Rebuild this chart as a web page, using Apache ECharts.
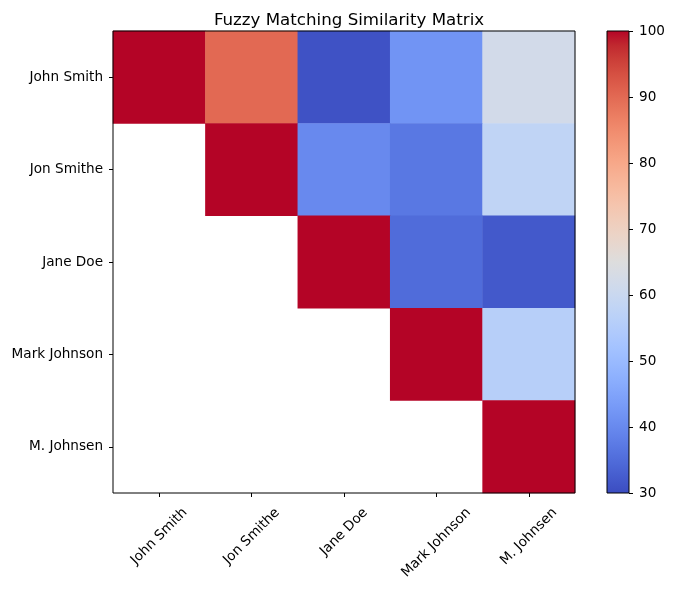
<!DOCTYPE html>
<html>
<head>
<meta charset="utf-8">
<script src="https://cdn.jsdelivr.net/npm/echarts@6/dist/echarts.min.js"></script>
<style>html,body{margin:0;padding:0;background:#fff;}#c{width:675px;height:589px;}</style>
</head>
<body>
<div id="c"></div>
<script>
const names = ['John Smith', 'Jon Smithe', 'Jane Doe', 'Mark Johnson', 'M. Johnsen'];
const rowJohnSmith   = [100, 90, 31, 42, 62];
const rowJonSmithe   = [null, 100, 40, 37, 58];
const rowJaneDoe     = [null, null, 100, 35, 32];
const rowMarkJohnson = [null, null, null, 100, 56];
const rowMJohnsen    = [null, null, null, null, 100];
const colorbarTicks  = [30, 40, 50, 60, 70, 80, 90, 100];

const rows = [rowJohnSmith, rowJonSmithe, rowJaneDoe, rowMarkJohnson, rowMJohnsen];
const data = [];
rows.forEach((r, i) => r.forEach((v, j) => { if (v !== null) data.push([j, i, v]); }));

const coolwarm = ['#3b4cc0','#445acc','#4d68d7','#5775e1','#6282ea','#6c8ef1','#779af7','#82a5fb','#8db0fe','#98b9ff','#a3c2ff','#aec9fd','#b8d0f9','#c2d5f4','#ccd9ee','#d5dbe6','#dddddd','#e5d8d1','#ecd3c5','#f1ccb9','#f5c4ad','#f7bba0','#f7b194','#f7a687','#f49a7b','#f18d6f','#ec7f63','#e57058','#de604d','#d55042','#cb3e38','#c0282f','#b40426'];
const gradStops = coolwarm.map((c, i) => ({ offset: i / (coolwarm.length - 1), color: c }));

const FONT = 'DejaVu Sans';
const FS = 13.6;
const ctx = document.createElement('canvas').getContext('2d');
ctx.font = FS + 'px "' + FONT + '"';
const LH = 15.5;
const rich = {};
names.forEach((n, i) => {
  const w = ctx.measureText(n).width;
  const p = 0.5 * (w + LH);
  rich['l' + i] = { fontFamily: FONT, fontSize: FS, color: '#000', padding: [p, p, 0, 0] };
});

const chart = echarts.init(document.getElementById('c'), null, { renderer: 'canvas' });
chart.setOption({
  animation: false,
  backgroundColor: '#fff',
  title: {
    text: 'Fuzzy Matching Similarity Matrix',
    left: 344, top: 7, textAlign: 'center',
    textStyle: { fontFamily: FONT, fontSize: 16.67, fontWeight: 'normal', color: '#000' }
  },
  grid: [
    { left: 113, top: 31, width: 462, height: 462, show: true, borderColor: '#000', borderWidth: 1, backgroundColor: 'transparent', z: 5 },
    { left: 607, top: 31, width: 22, height: 462, show: true, borderColor: '#000', borderWidth: 1,
      backgroundColor: new echarts.graphic.LinearGradient(0, 1, 0, 0, gradStops), z: 6 }
  ],
  xAxis: [
    {
      type: 'category', data: names, gridIndex: 0, position: 'bottom',
      axisLine: { show: false },
      axisTick: { show: true, alignWithLabel: true, length: 4, lineStyle: { color: '#000' }, interval: 0 },
      axisLabel: {
        interval: 0, rotate: 45, align: 'center', verticalAlign: 'middle', margin: 12,
        fontFamily: FONT, fontSize: FS, color: '#000',
        formatter: (v, i) => '{l' + i + '|' + v + '}', rich: rich
      },
      splitLine: { show: false }
    },
    { type: 'value', gridIndex: 1, min: 0, max: 1, show: false,
      axisLine: { show: false }, axisTick: { show: false }, axisLabel: { show: false }, splitLine: { show: false } }
  ],
  yAxis: [
    {
      type: 'category', data: names, gridIndex: 0, inverse: true,
      axisLine: { show: false },
      axisTick: { show: true, alignWithLabel: true, length: 4, lineStyle: { color: '#000' }, interval: 0 },
      axisLabel: { interval: 0, margin: 10, fontFamily: FONT, fontSize: FS, color: '#000' },
      splitLine: { show: false }
    },
    {
      type: 'value', gridIndex: 1, position: 'right', min: colorbarTicks[0], max: colorbarTicks[colorbarTicks.length - 1], interval: 10,
      axisLine: { show: false, onZero: false },
      axisTick: { show: true, length: 4, lineStyle: { color: '#000' } },
      axisLabel: { margin: 10, fontFamily: FONT, fontSize: FS, color: '#000' },
      splitLine: { show: false }
    }
  ],
  visualMap: {
    type: 'continuous', min: 30, max: 100, seriesIndex: 0, show: false,
    inRange: { color: coolwarm }
  },
  series: [
    {
      type: 'heatmap', xAxisIndex: 0, yAxisIndex: 0, data: data,
      label: { show: false }, itemStyle: { borderWidth: 0 },
      emphasis: { disabled: true }, progressive: 0
    }
  ]
});
</script>
</body>
</html>
